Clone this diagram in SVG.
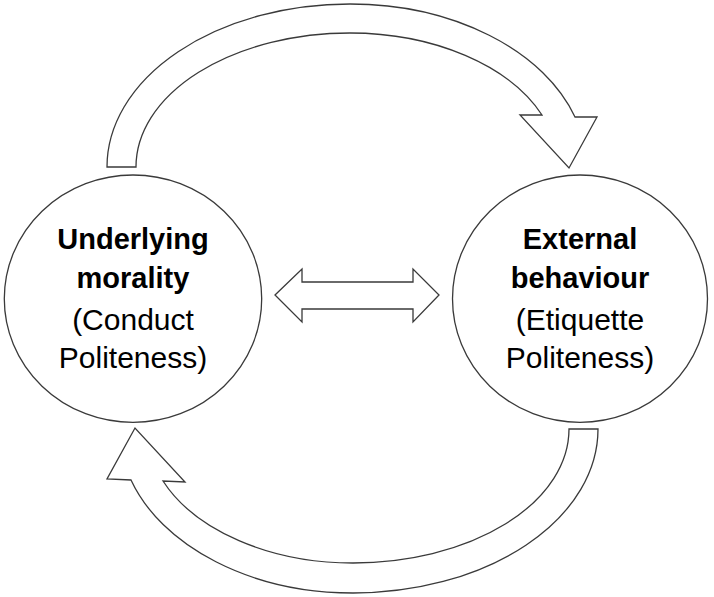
<svg xmlns="http://www.w3.org/2000/svg" width="714" height="597" viewBox="0 0 714 597">
<style>
.shape{fill:#fff;stroke:#3a3a3a;stroke-width:1.3;stroke-linejoin:miter}
.t{font-family:"Liberation Sans",Arial,sans-serif;font-size:30px;fill:#000;text-anchor:middle}
.b{font-weight:bold;font-size:29px}
</style>
<rect width="714" height="597" fill="#fff"/>
<g id="connectors">
<path id="top-arrow" class="shape" d="M107,167 A243,163 0 0 1 350,4 A236.4,163 0 0 1 575,117 L597,117 L569,168 L520,115 L542,115 A208.4,134 0 0 0 350,33 A214,134 0 0 0 136,167 Z"/>
<path id="bottom-arrow" class="shape" d="M569,429 L598,429 A245,164 0 0 1 353,593 A233.6,164 0 0 1 131,480 L107,479 L135,428 L185,482 L163,481 A206,134 0 0 0 353,563 A216,134 0 0 0 569,429 Z"/>
<path id="double-arrow" class="shape" d="M275,295 L302,269 L302,282 L413,282 L413,269 L439,295 L413,322 L413,309 L302,309 L302,322 Z"/>
</g>
<g id="node-left">
<ellipse class="shape" cx="133" cy="298.7" rx="128.7" ry="123.7"/>
<text class="t b" x="133" y="249">Underlying</text>
<text class="t b" x="133" y="288">morality</text>
<text class="t" x="133" y="330">(Conduct</text>
<text class="t" x="133" y="368">Politeness)</text>
</g>
<g id="node-right">
<ellipse class="shape" cx="580" cy="298.7" rx="127.5" ry="123.7"/>
<text class="t b" x="580" y="249">External</text>
<text class="t b" x="580" y="288">behaviour</text>
<text class="t" x="580" y="330">(Etiquette</text>
<text class="t" x="580" y="368">Politeness)</text>
</g>
</svg>
